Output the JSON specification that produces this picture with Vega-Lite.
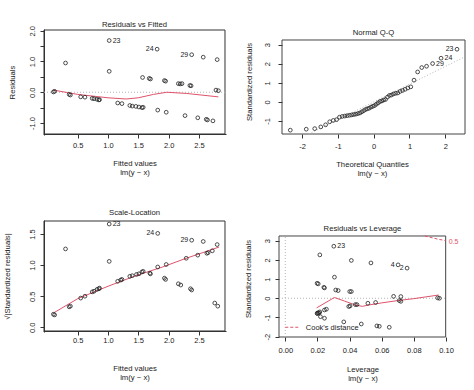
{
"$schema":"https://vega.github.io/schema/vega-lite/v6.json",
"background":"white",
"padding":{"left":3,"top":20,"right":5,"bottom":5},
"columns":2,
"align":"none",
"bounds":"flush",
"spacing":{"row":85,"column":53},
"datasets":{
"rf":[{"x":0.10,"y":0.01},{"x":0.12,"y":0.03},{"x":0.30,"y":0.95},{"x":0.36,"y":-0.07},{"x":0.38,"y":-0.09},{"x":0.55,"y":-0.15},{"x":0.62,"y":-0.16},{"x":0.74,"y":-0.20},{"x":0.77,"y":-0.21},{"x":0.82,"y":-0.23},{"x":0.85,"y":-0.25},{"x":0.86,"y":-0.24},{"x":1.02,"y":1.68,"label":"23"},{"x":1.02,"y":0.68},{"x":1.16,"y":-0.35},{"x":1.23,"y":-0.37},{"x":1.36,"y":-0.43},{"x":1.40,"y":-0.45},{"x":1.46,"y":-0.46},{"x":1.51,"y":-0.48},{"x":1.56,"y":-0.50},{"x":1.58,"y":-0.49},{"x":1.57,"y":0.48},{"x":1.68,"y":0.45},{"x":1.70,"y":0.43},{"x":1.81,"y":1.40,"label":"24"},{"x":1.82,"y":-0.58},{"x":1.96,"y":-0.65},{"x":1.93,"y":0.38},{"x":1.95,"y":0.36},{"x":2.16,"y":0.28},{"x":2.19,"y":0.27},{"x":2.22,"y":0.28},{"x":2.35,"y":0.22},{"x":2.37,"y":0.21},{"x":2.38,"y":1.22,"label":"29"},{"x":2.27,"y":-0.76},{"x":2.48,"y":-0.83},{"x":2.57,"y":1.14},{"x":2.62,"y":-0.88},{"x":2.64,"y":-0.90},{"x":2.73,"y":-0.93},{"x":2.78,"y":0.07},{"x":2.82,"y":0.05},{"x":2.80,"y":1.06}],
"rf_lo":[{"x":0.10,"y":0.07},{"x":0.5,"y":-0.07},{"x":1.0,"y":-0.18},{"x":1.3,"y":-0.22},{"x":1.5,"y":-0.18},{"x":1.75,"y":-0.07},{"x":1.97,"y":0.0},{"x":2.3,"y":-0.04},{"x":2.82,"y":-0.15}],
"frame_a":[{"x":-0.055,"x2":2.929,"y":-1.357,"y2":-1.357},{"x":-0.055,"x2":2.929,"y":2.023,"y2":2.023},{"x":-0.055,"x2":-0.055,"y":-1.357,"y2":2.023},{"x":2.929,"x2":2.929,"y":-1.357,"y2":2.023}],
"qq":[{"x":-2.326,"y":-1.48},{"x":-1.881,"y":-1.43},{"x":-1.645,"y":-1.40},{"x":-1.476,"y":-1.31},{"x":-1.341,"y":-1.20},{"x":-1.227,"y":-1.04},{"x":-1.126,"y":-0.97},{"x":-1.036,"y":-0.93},{"x":-0.954,"y":-0.80},{"x":-0.878,"y":-0.76},{"x":-0.806,"y":-0.74},{"x":-0.739,"y":-0.72},{"x":-0.674,"y":-0.70},{"x":-0.613,"y":-0.68},{"x":-0.553,"y":-0.66},{"x":-0.496,"y":-0.64},{"x":-0.440,"y":-0.61},{"x":-0.385,"y":-0.58},{"x":-0.332,"y":-0.52},{"x":-0.279,"y":-0.46},{"x":-0.228,"y":-0.40},{"x":-0.176,"y":-0.36},{"x":-0.126,"y":-0.33},{"x":-0.075,"y":-0.27},{"x":-0.025,"y":-0.23},{"x":0.025,"y":-0.19},{"x":0.075,"y":-0.12},{"x":0.126,"y":-0.05},{"x":0.176,"y":0.02},{"x":0.228,"y":0.05},{"x":0.279,"y":0.10},{"x":0.332,"y":0.13},{"x":0.385,"y":0.25},{"x":0.440,"y":0.34},{"x":0.496,"y":0.36},{"x":0.553,"y":0.42},{"x":0.613,"y":0.45},{"x":0.674,"y":0.47},{"x":0.739,"y":0.55},{"x":0.806,"y":0.60},{"x":0.878,"y":0.66},{"x":0.954,"y":0.73},{"x":1.036,"y":0.79},{"x":1.126,"y":1.14},{"x":1.227,"y":1.57},{"x":1.341,"y":1.80},{"x":1.476,"y":1.87},{"x":1.645,"y":2.01,"label":"29"},{"x":1.881,"y":2.29,"label":"24"},{"x":2.326,"y":2.76,"label":"23"}],
"qq_line":[{"x":-1.81,"y":-1.681},{"x":2.549,"y":2.37}],
"frame_b":[{"x":-2.558,"x2":2.549,"y":-1.681,"y2":-1.681},{"x":-2.558,"x2":2.549,"y":3.245,"y2":3.245},{"x":-2.558,"x2":-2.558,"y":-1.681,"y2":3.245},{"x":2.549,"x2":2.549,"y":-1.681,"y2":3.245}],
"sl":[{"x":0.10,"y":0.21},{"x":0.12,"y":0.20},{"x":0.30,"y":1.26},{"x":0.36,"y":0.33},{"x":0.38,"y":0.34},{"x":0.55,"y":0.47},{"x":0.62,"y":0.50},{"x":0.74,"y":0.57},{"x":0.77,"y":0.58},{"x":0.82,"y":0.61},{"x":0.85,"y":0.62},{"x":0.86,"y":0.63},{"x":1.02,"y":1.66,"label":"23"},{"x":1.02,"y":1.06},{"x":1.16,"y":0.74},{"x":1.21,"y":0.76},{"x":1.23,"y":0.77},{"x":1.36,"y":0.82},{"x":1.40,"y":0.83},{"x":1.47,"y":0.85},{"x":1.51,"y":0.86},{"x":1.56,"y":0.89},{"x":1.58,"y":0.90},{"x":1.69,"y":0.87},{"x":1.70,"y":0.86},{"x":1.82,"y":1.51,"label":"24"},{"x":1.82,"y":0.97},{"x":1.96,"y":1.01},{"x":1.93,"y":0.79},{"x":1.95,"y":0.77},{"x":2.16,"y":0.70},{"x":2.20,"y":0.68},{"x":2.36,"y":0.62},{"x":2.38,"y":0.60},{"x":2.38,"y":1.40,"label":"29"},{"x":2.29,"y":1.11},{"x":2.48,"y":1.16},{"x":2.57,"y":1.38},{"x":2.63,"y":1.19},{"x":2.65,"y":1.20},{"x":2.72,"y":1.23},{"x":2.76,"y":0.39},{"x":2.81,"y":0.34},{"x":2.80,"y":1.33}],
"sl_lo":[{"x":0.10,"y":0.23},{"x":0.5,"y":0.46},{"x":1.0,"y":0.66},{"x":1.46,"y":0.83},{"x":1.9,"y":0.97},{"x":2.26,"y":1.10},{"x":2.83,"y":1.29}],
"frame_c":[{"x":-0.055,"x2":2.929,"y":-0.059,"y2":-0.059},{"x":-0.055,"x2":2.929,"y":1.709,"y2":1.709},{"x":-0.055,"x2":-0.055,"y":-0.059,"y2":1.709},{"x":2.929,"x2":2.929,"y":-0.059,"y2":1.709}],
"rl":[{"x":0.0198,"y":-0.78},{"x":0.0205,"y":-0.75},{"x":0.0215,"y":-0.71},{"x":0.0200,"y":-0.80},{"x":0.0210,"y":-0.77},{"x":0.0219,"y":-0.96},{"x":0.0244,"y":-1.04},{"x":0.0244,"y":-0.61},{"x":0.0256,"y":-0.57},{"x":0.0198,"y":0.78},{"x":0.0205,"y":0.75},{"x":0.0240,"y":0.57},{"x":0.0244,"y":0.54},{"x":0.0215,"y":2.26},{"x":0.0302,"y":2.71,"label":"23"},{"x":0.0306,"y":1.10},{"x":0.0314,"y":0.43},{"x":0.0329,"y":0.40},{"x":0.0364,"y":-1.23},{"x":0.0395,"y":-0.43},{"x":0.0403,"y":-0.40},{"x":0.0401,"y":0.35},{"x":0.0411,"y":0.35},{"x":0.0411,"y":1.97},{"x":0.0436,"y":-0.33},{"x":0.0446,"y":-0.33},{"x":0.0473,"y":-1.34},{"x":0.0514,"y":-0.26},{"x":0.0533,"y":1.84},{"x":0.0562,"y":-0.22},{"x":0.0570,"y":-1.44},{"x":0.0585,"y":-1.46},{"x":0.0647,"y":-1.51},{"x":0.0674,"y":0.10},{"x":0.0702,"y":1.74,"label":"4"},{"x":0.0709,"y":-0.12},{"x":0.0719,"y":-0.16},{"x":0.0719,"y":0.09},{"x":0.0758,"y":1.57,"label":"2"},{"x":0.0948,"y":0.02},{"x":0.0959,"y":0.00}],
"rl_lo":[{"x":0.0195,"y":-0.50},{"x":0.0306,"y":0.04},{"x":0.037,"y":-0.15},{"x":0.044,"y":-0.36},{"x":0.048,"y":-0.42},{"x":0.052,"y":-0.35},{"x":0.06,"y":-0.24},{"x":0.07,"y":-0.12},{"x":0.08,"y":-0.02},{"x":0.0955,"y":0.17}],
"frame_d":[{"x":-0.0039,"x2":0.0998,"y":-2.017,"y2":-2.017},{"x":-0.0039,"x2":0.0998,"y":3.243,"y2":3.243},{"x":-0.0039,"x2":-0.0039,"y":-2.017,"y2":3.243},{"x":0.0998,"x2":0.0998,"y":-2.017,"y2":3.243}],
"cook":[{"x":0.0868,"y":3.243},{"x":0.09,"y":3.18},{"x":0.095,"y":3.078},{"x":0.0998,"y":3.003}]
},
"concat":[
{
"width":183,"height":106,
"title":{"text":"Residuals vs Fitted","offset":-3},
"encoding":{
"x":{"field":"x","type":"quantitative","scale":{"domain":[-0.0715,2.9455],"nice":false,"zero":false},"axis":{"values":[0.5,1,1.5,2,2.5],"format":".1f","title":["Fitted values","lm(y ~ x)"],"offset":-1,"domain":true,"domainColor":"#333","labelPadding":3.5,"titlePadding":10}},
"y":{"field":"y","type":"quantitative","scale":{"domain":[-1.3895,2.0555],"nice":false,"zero":false},"axis":{"values":[-1,-0.5,0,0.5,1,1.5,2],"labelExpr":"datum.value % 1 == 0 ? replace(format(datum.value, '.1f'), '\u2212', '-') : ''","labelAngle":-90,"labelAlign":"center","labelBaseline":"bottom","labelPadding":3.4,"offset":-1,"domain":true,"domainColor":"#333","title":"Residuals","titlePadding":11.8}}
},
"layer":[
{"data":{"name":"frame_a"},"mark":{"type":"rule","color":"#333","strokeWidth":1,"clip":false},"encoding":{"x2":{"field":"x2"},"y2":{"field":"y2"}}},
{"data":{"values":[{"x":-0.055,"x2":2.929,"y":0}]},"mark":{"type":"rule","color":"#b5b5b5","strokeDash":[1,2]},"encoding":{"x2":{"field":"x2"}}},
{"data":{"name":"rf_lo"},"mark":{"type":"line","color":"#DF536B","strokeWidth":1}},
{"data":{"name":"rf"},"mark":{"type":"point","shape":"circle","filled":false,"size":14,"color":"#222","strokeWidth":0.8,"opacity":1,"clip":false}},
{"data":{"name":"rf"},"transform":[{"filter":"datum.label == '23'"}],"mark":{"type":"text","align":"left","baseline":"middle","dx":3.5,"fontSize":7,"color":"#222"},"encoding":{"text":{"field":"label"}}},
{"data":{"name":"rf"},"transform":[{"filter":"datum.label == '24' || datum.label == '29'"}],"mark":{"type":"text","align":"right","baseline":"middle","dx":-3.5,"fontSize":7,"color":"#222"},"encoding":{"text":{"field":"label"}}}
]
},
{
"width":186,"height":105,
"title":{"text":"Normal Q-Q","offset":3,"dy":11,"dx":1.5},
"encoding":{
"x":{"field":"x","type":"quantitative","scale":{"domain":[-2.642,2.549],"nice":false,"zero":false},"axis":{"values":[-2,-1,0,1,2],"labelExpr":"replace(format(datum.value, 'd'), '\u2212', '-')","title":["Theoretical Quantiles","lm(y ~ x)"],"labelPadding":4.6,"titlePadding":10.5}},
"y":{"field":"y","type":"quantitative","scale":{"domain":[-1.681,3.821],"nice":false,"zero":false},"axis":{"values":[-1,0,1,2,3],"labelExpr":"replace(format(datum.value, 'd'), '\u2212', '-')","labelAngle":-90,"labelAlign":"center","labelBaseline":"bottom","labelPadding":6.1,"offset":-3,"title":"Standardized residuals","titlePadding":10.8}}
},
"layer":[
{"data":{"name":"frame_b"},"mark":{"type":"rule","color":"#444","strokeWidth":1,"clip":false},"encoding":{"x2":{"field":"x2"},"y2":{"field":"y2"}}},
{"data":{"name":"qq_line"},"mark":{"type":"line","color":"#b5b5b5","strokeDash":[1,2],"strokeWidth":1}},
{"data":{"name":"qq"},"mark":{"type":"point","shape":"circle","filled":false,"size":14,"color":"#222","strokeWidth":0.8,"opacity":1,"clip":false}},
{"data":{"name":"qq"},"transform":[{"filter":"datum.label == '23'"}],"mark":{"type":"text","align":"right","baseline":"middle","dx":-3.5,"fontSize":7,"color":"#222"},"encoding":{"text":{"field":"label"}}},
{"data":{"name":"qq"},"transform":[{"filter":"datum.label == '24' || datum.label == '29'"}],"mark":{"type":"text","align":"left","baseline":"middle","dx":3.5,"fontSize":7,"color":"#222"},"encoding":{"text":{"field":"label"}}}
]
},
{
"width":183,"height":112,
"title":{"text":"Scale-Location","offset":3},
"encoding":{
"x":{"field":"x","type":"quantitative","scale":{"domain":[-0.0715,2.9455],"nice":false,"zero":false},"axis":{"values":[0.5,1,1.5,2,2.5],"format":".1f","title":["Fitted values","lm(y ~ x)"],"offset":-1,"domain":true,"domainColor":"#333","labelPadding":1.6,"titlePadding":20}},
"y":{"field":"y","type":"quantitative","scale":{"domain":[-0.0751,1.7251],"nice":false,"zero":false},"axis":{"values":[0,0.5,1,1.5],"format":".1f","labelAngle":-90,"labelAlign":"center","labelBaseline":"bottom","labelPadding":3.1,"offset":-1,"domain":true,"domainColor":"#333","title":"√|Standardized residuals|","titlePadding":17.5}}
},
"layer":[
{"data":{"name":"frame_c"},"mark":{"type":"rule","color":"#333","strokeWidth":1,"clip":false},"encoding":{"x2":{"field":"x2"},"y2":{"field":"y2"}}},
{"data":{"name":"sl_lo"},"mark":{"type":"line","color":"#DF536B","strokeWidth":1}},
{"data":{"name":"sl"},"mark":{"type":"point","shape":"circle","filled":false,"size":14,"color":"#222","strokeWidth":0.8,"opacity":1,"clip":false}},
{"data":{"name":"sl"},"transform":[{"filter":"datum.label == '23'"}],"mark":{"type":"text","align":"left","baseline":"middle","dx":3.5,"fontSize":7,"color":"#222"},"encoding":{"text":{"field":"label"}}},
{"data":{"name":"sl"},"transform":[{"filter":"datum.label == '24' || datum.label == '29'"}],"mark":{"type":"text","align":"right","baseline":"middle","dx":-3.5,"fontSize":7,"color":"#222"},"encoding":{"text":{"field":"label"}}}
]
},
{
"width":167,"height":117,
"title":{"text":"Residuals vs Leverage","offset":3,"dy":16},
"encoding":{
"x":{"field":"x","type":"quantitative","scale":{"domain":[-0.0039,0.1],"nice":false,"zero":false},"axis":{"values":[0,0.02,0.04,0.06,0.08,0.1],"format":".2f","title":["Leverage","lm(y ~ x)"],"labelPadding":5.9,"titlePadding":11.5}},
"y":{"field":"y","type":"quantitative","scale":{"domain":[-2.017,4.076],"nice":false,"zero":false},"axis":{"values":[-2,-1,0,1,2,3],"labelExpr":"replace(format(datum.value, 'd'), '\u2212', '-')","labelAngle":-90,"labelAlign":"center","labelBaseline":"bottom","labelPadding":3.1,"title":"Standardized residuals","titlePadding":11.5}}
},
"layer":[
{"data":{"name":"frame_d"},"mark":{"type":"rule","color":"#444","strokeWidth":1,"clip":false},"encoding":{"x2":{"field":"x2"},"y2":{"field":"y2"}}},
{"data":{"values":[{"x":-0.0039,"x2":0.0998,"y":0}]},"mark":{"type":"rule","color":"#b5b5b5","strokeDash":[1,2]},"encoding":{"x2":{"field":"x2"}}},
{"data":{"values":[{"x":0,"y":-2.017,"y2":3.243}]},"mark":{"type":"rule","color":"#b5b5b5","strokeDash":[1,2]},"encoding":{"y2":{"field":"y2"}}},
{"data":{"name":"rl_lo"},"mark":{"type":"line","color":"#DF536B","strokeWidth":1}},
{"data":{"name":"cook"},"mark":{"type":"line","color":"#DF536B","strokeWidth":1,"strokeDash":[3,2]}},
{"data":{"values":[{"x":0.1017,"y":2.95,"t":"0.5"}]},"mark":{"type":"text","align":"left","baseline":"middle","fontSize":7,"color":"#DF536B","clip":false},"encoding":{"text":{"field":"t"}}},
{"data":{"values":[{"x":0.0,"x2":0.0087,"y":-1.51}]},"mark":{"type":"rule","color":"#DF536B","strokeDash":[3,2]},"encoding":{"x2":{"field":"x2"}}},
{"data":{"values":[{"x":0.0128,"y":-1.56,"t":"Cook's distance"}]},"mark":{"type":"text","align":"left","baseline":"middle","fontSize":7.5,"color":"#222"},"encoding":{"text":{"field":"t"}}},
{"data":{"name":"rl"},"mark":{"type":"point","shape":"circle","filled":false,"size":14,"color":"#222","strokeWidth":0.8,"opacity":1,"clip":false}},
{"data":{"name":"rl"},"transform":[{"filter":"datum.label == '23'"}],"mark":{"type":"text","align":"left","baseline":"middle","dx":3.5,"fontSize":7,"color":"#222"},"encoding":{"text":{"field":"label"}}},
{"data":{"name":"rl"},"transform":[{"filter":"datum.label == '4' || datum.label == '2'"}],"mark":{"type":"text","align":"right","baseline":"middle","dx":-3.5,"fontSize":7,"color":"#222"},"encoding":{"text":{"field":"label"}}}
]
}
],
"config":{
"font":"Liberation Sans",
"view":{"stroke":null},
"axis":{"grid":false,"domain":false,"labelFlush":false,"labelOverlap":false,"tickColor":"#333","tickSize":4,"labelColor":"#222","titleColor":"#222","labelFontSize":7.5,"titleFontSize":7.7,"titleFontWeight":"normal","titleLineHeight":9,"labelFont":"Liberation Sans","titleFont":"Liberation Sans"},
"title":{"fontSize":7.7,"fontWeight":"normal","color":"#222","font":"Liberation Sans","frame":"group"},
"text":{"font":"Liberation Sans"}
}
}
